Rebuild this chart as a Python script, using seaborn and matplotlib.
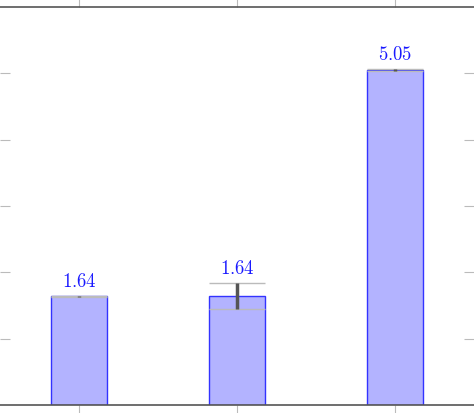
import matplotlib
matplotlib.use("Agg")
import matplotlib.pyplot as plt
import seaborn as sns
import pandas as pd

categories = ["A", "B", "C"]
values = [1.64, 1.64, 5.05]
errors = [0.01, 0.195, 0.01]
labels = ["1.64", "1.64", "5.05"]

sns.set_style("white")
plt.rcParams["mathtext.fontset"] = "cm"

df = pd.DataFrame({"cat": categories, "val": values})

fig = plt.figure(figsize=(4.74, 4.13), dpi=100)
ax = fig.add_axes([0.0, 8 / 413, 1.0, 398 / 413])

sns.barplot(data=df, x="cat", y="val", ax=ax, color="#B3B3FF", saturation=1,
            edgecolor="#3333FF", linewidth=1.0, width=0.36, errorbar=None)

xs = list(range(len(categories)))
ax.errorbar(xs, values, yerr=errors, fmt="none", ecolor="#BBBBBB",
            elinewidth=0, capsize=20, capthick=1, zorder=3)
ax.errorbar(xs, values, yerr=errors, fmt="none", ecolor="#555555",
            elinewidth=2.5, capsize=0, zorder=4)

for x, v, e, lab in zip(xs, values, errors, labels):
    ax.annotate(r"$%s$" % lab, xy=(x, v + e), xytext=(0, 3.5),
                textcoords="offset points", ha="center", va="bottom",
                color="#1a1aff", fontsize=13.5)

ax.set_xlim(-0.5, 2.5)
ax.set_ylim(0, 6)
ax.set_yticks([1, 2, 3, 4, 5])
ax.set_xlabel("")
ax.set_ylabel("")
ax.set_xticklabels([])
ax.set_yticklabels([])

for s in ["left", "right"]:
    ax.spines[s].set_visible(False)
for s in ["top", "bottom"]:
    ax.spines[s].set_visible(True)
    ax.spines[s].set_color("#555555")
    ax.spines[s].set_linewidth(1.2)

ax.tick_params(axis="y", which="both", left=True, right=True, direction="in",
               length=7, color="#BBBBBB", width=0.8)
ax.tick_params(axis="x", which="both", bottom=True, top=True, direction="out",
               length=8, color="#BBBBBB", width=0.8)

fig.savefig("out.png", dpi=100)
